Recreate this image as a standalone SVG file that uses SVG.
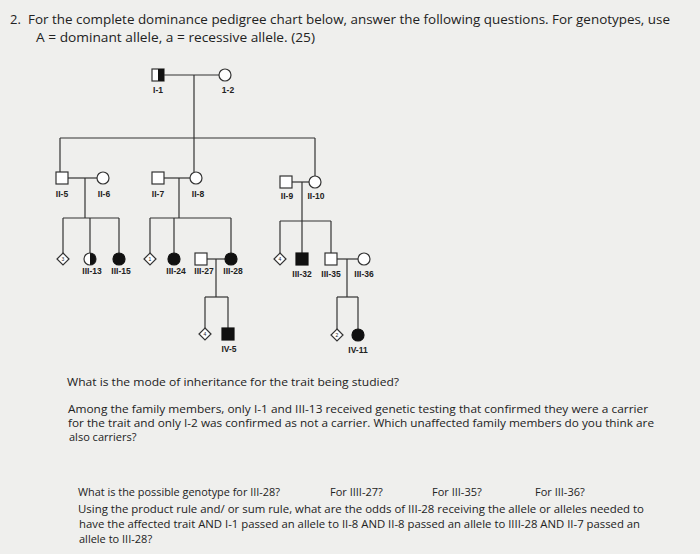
<svg xmlns="http://www.w3.org/2000/svg" width="700" height="554" viewBox="0 0 700 554">
<style>
.q{font-family:"Open Sans","Liberation Sans",sans-serif;font-size:11px;fill:#222}
.t{font-family:"Open Sans","Liberation Sans",sans-serif;font-size:13px;fill:#222}
.l{font-family:"Liberation Sans",sans-serif;font-size:8.5px;font-weight:bold;fill:#222;text-anchor:middle}
.d{font-family:"Liberation Sans",sans-serif;font-size:5px;fill:#222;text-anchor:middle}
.s{fill:#fff;stroke:#333;stroke-width:1.2}
.f{fill:#111;stroke:#111;stroke-width:1.2}
.c line{stroke:#333;stroke-width:1.2}
</style>
<rect width="700" height="554" fill="#efefed"/>
<text class="t" x="10" y="24">2.</text>
<text class="t" x="28" y="24" textLength="642" lengthAdjust="spacingAndGlyphs">For the complete dominance pedigree chart below, answer the following questions. For genotypes, use</text>
<text class="t" x="36" y="42" textLength="279" lengthAdjust="spacingAndGlyphs">A = dominant allele, a = recessive allele.  (25)</text>
<g class="c">
<line x1="164" y1="75" x2="219" y2="75"/><line x1="194" y1="75" x2="194" y2="172"/>
<line x1="60" y1="138" x2="315" y2="138"/><line x1="60" y1="138" x2="60" y2="172"/><line x1="315" y1="138" x2="315" y2="176"/>
<line x1="68" y1="178" x2="97" y2="178"/><line x1="85" y1="178" x2="85" y2="218"/><line x1="63" y1="218" x2="119" y2="218"/>
<line x1="63" y1="218" x2="63" y2="253"/><line x1="90" y1="218" x2="90" y2="253"/><line x1="119" y1="218" x2="119" y2="253"/>
<line x1="164" y1="178" x2="190" y2="178"/><line x1="179" y1="178" x2="179" y2="218"/><line x1="150" y1="218" x2="231" y2="218"/>
<line x1="150" y1="218" x2="150" y2="253"/><line x1="174" y1="218" x2="174" y2="253"/><line x1="231" y1="218" x2="231" y2="253"/>
<line x1="207" y1="259" x2="225" y2="259"/><line x1="216" y1="259" x2="216" y2="297"/><line x1="205" y1="297" x2="228" y2="297"/>
<line x1="205" y1="297" x2="205" y2="328"/><line x1="228" y1="297" x2="228" y2="328"/>
<line x1="292" y1="182" x2="309" y2="182"/><line x1="302" y1="182" x2="302" y2="221"/><line x1="280" y1="221" x2="331" y2="221"/>
<line x1="280" y1="221" x2="280" y2="253"/><line x1="302" y1="221" x2="302" y2="253"/><line x1="331" y1="221" x2="331" y2="253"/>
<line x1="337" y1="259" x2="358" y2="259"/><line x1="347" y1="259" x2="347" y2="297"/><line x1="337" y1="297" x2="358" y2="297"/>
<line x1="337" y1="297" x2="337" y2="329"/><line x1="358" y1="297" x2="358" y2="329"/>
</g>
<g id="I-1"><rect class="s" x="152" y="69" width="12" height="12"/><rect x="158" y="69" width="6" height="12" fill="#111"/><text class="l" x="158" y="93">I-1</text></g>
<g id="I-2"><circle class="s" cx="225" cy="75" r="6"/><text class="l" x="228" y="93">1-2</text></g>
<g id="II-5"><rect class="s" x="56" y="172" width="12" height="12"/><text class="l" x="62" y="197">II-5</text></g>
<g id="II-6"><circle class="s" cx="103" cy="178" r="6"/><text class="l" x="104" y="197">II-6</text></g>
<g id="II-7"><rect class="s" x="152" y="172" width="12" height="12"/><text class="l" x="158" y="197">II-7</text></g>
<g id="II-8"><circle class="s" cx="196" cy="178" r="6"/><text class="l" x="198" y="197">II-8</text></g>
<g id="II-9"><rect class="s" x="280" y="176" width="12" height="12"/><text class="l" x="287" y="199">II-9</text></g>
<g id="II-10"><circle class="s" cx="315" cy="182" r="6"/><text class="l" x="316" y="199">II-10</text></g>
<g id="d1"><polygon class="s" points="63,253 69,259 63,265 57,259"/><text class="d" x="63" y="261">3</text></g>
<g id="III-13"><circle class="s" cx="90" cy="259" r="6"/><path d="M90,253 A6,6 0 0 1 90,265 Z" fill="#111"/><text class="l" x="92" y="274">III-13</text></g>
<g id="III-15"><circle class="f" cx="119" cy="259" r="6"/><text class="l" x="121" y="274">III-15</text></g>
<g id="d2"><polygon class="s" points="150,253 156,259 150,265 144,259"/><text class="d" x="150" y="261">1</text></g>
<g id="III-24"><circle class="f" cx="174" cy="259" r="6"/><text class="l" x="176" y="274">III-24</text></g>
<g id="III-27"><rect class="s" x="195" y="253" width="12" height="12"/><text class="l" x="204" y="274">III-27</text></g>
<g id="III-28"><circle class="f" cx="231" cy="259" r="6"/><text class="l" x="233" y="274">III-28</text></g>
<g id="d3"><polygon class="s" points="205,328 211,334 205,340 199,334"/><text class="d" x="205" y="336">4</text></g>
<g id="IV-5"><rect class="f" x="222" y="328" width="12" height="12"/><text class="l" x="229" y="352">IV-5</text></g>
<g id="d4"><polygon class="s" points="280,253 286,259 280,265 274,259"/><text class="d" x="280" y="261">4</text></g>
<g id="III-32"><rect class="f" x="296" y="253" width="12" height="12"/><text class="l" x="302" y="277">III-32</text></g>
<g id="III-35"><rect class="s" x="325" y="253" width="12" height="12"/><text class="l" x="331" y="277">III-35</text></g>
<g id="III-36"><circle class="s" cx="364" cy="259" r="6"/><text class="l" x="364" y="277">III-36</text></g>
<g id="d5"><polygon class="s" points="337,329 343,335 337,341 331,335"/><text class="d" x="337" y="337">2</text></g>
<g id="IV-11"><circle class="f" cx="358" cy="335" r="6"/><text class="l" x="358" y="353">IV-11</text></g>
<text class="q" x="67" y="386" textLength="332" lengthAdjust="spacingAndGlyphs">What is the mode of inheritance for the trait being studied?</text>
<text class="q" x="68" y="413" textLength="580" lengthAdjust="spacingAndGlyphs">Among the family members, only I-1 and III-13 received genetic testing that confirmed they were a carrier</text>
<text class="q" x="68" y="427" textLength="586" lengthAdjust="spacingAndGlyphs">for the trait and only I-2 was confirmed as not a carrier. Which unaffected family members do you think are</text>
<text class="q" x="69" y="441">also carriers?</text>
<text class="q" x="78" y="496" textLength="202" lengthAdjust="spacingAndGlyphs">What is the possible genotype for III-28?</text>
<text class="q" x="330" y="496">For IIII-27?</text>
<text class="q" x="432" y="496">For III-35?</text>
<text class="q" x="535" y="496">For III-36?</text>
<text class="q" x="78" y="513" textLength="566" lengthAdjust="spacingAndGlyphs">Using the product rule and/ or sum rule, what are the odds of III-28 receiving the allele or alleles needed to</text>
<text class="q" x="79" y="528" textLength="561" lengthAdjust="spacingAndGlyphs">have the affected trait AND I-1 passed an allele to II-8 AND II-8 passed an allele to IIII-28 AND II-7 passed an</text>
<text class="q" x="79" y="543">allele to III-28?</text>
</svg>
